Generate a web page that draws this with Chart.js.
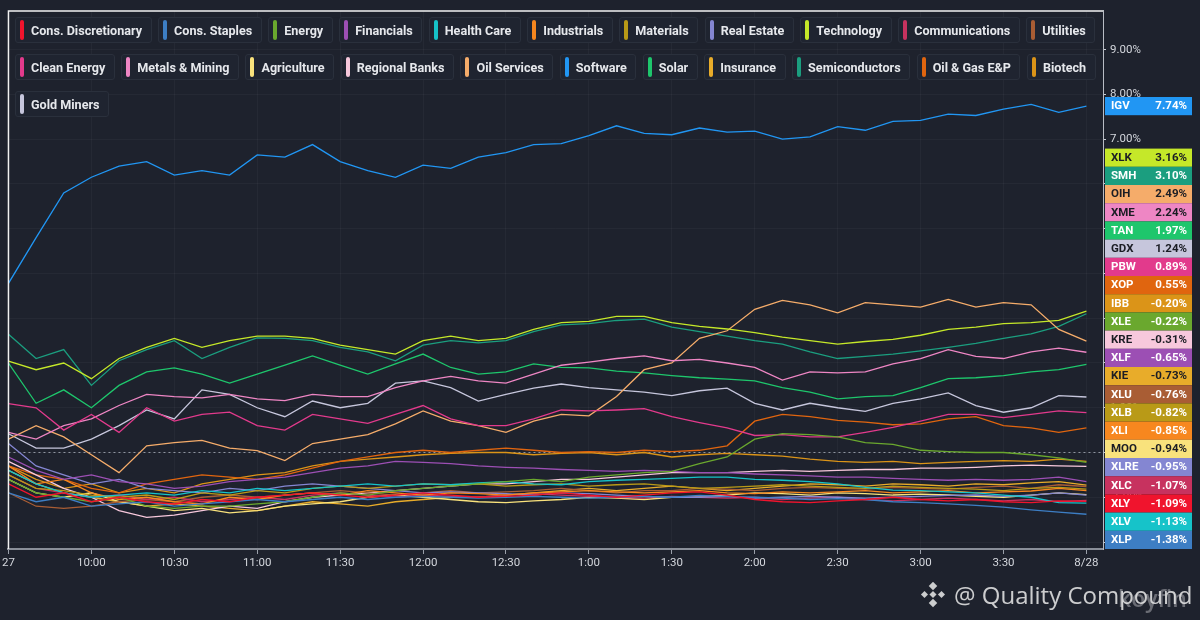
<!DOCTYPE html>
<html lang="en">
<head>
  <meta charset="UTF-8">
  <title>Sector ETF performance, intraday</title>
  <script src="https://cdn.jsdelivr.net/npm/chart.js"></script>
  <style>
    body {
      margin: 0;
      background-color: #1e222d;
      font-family: Roboto, "Noto Sans", sans-serif;
    }

    .chart-container {
      position: relative;
      width: 1200px;
      height: 620px;
    }

    /* legend chips at the top left */
    #legend {
      position: absolute;
      left: 15px;
      top: 17px;
      width: 1090px;
      display: flex;
      flex-wrap: wrap;
      column-gap: 6.5px;
      row-gap: 11px;
    }
    .item {
      display: flex;
      align-items: center;
      height: 24px;
      padding: 0 8.5px 0 4px;
      background: #1f2430;
      border: 1px solid #2a303c;
      border-radius: 3px;
      font-family: Roboto, sans-serif;
      font-weight: 700;
      font-size: 12.6px;
      color: #e6e8ec;
      white-space: nowrap;
    }
    .bar {
      width: 4px;
      height: 20px;
      border-radius: 2px;
      margin-right: 7px;
    }

    .watermark {
      position: absolute;
      left: 920px;
      top: 578px;
      display: flex;
      align-items: center;
      font-family: "Open Sans", sans-serif;
      font-size: 24px;
      color: rgba(235, 235, 235, 0.85);
    }
    .koyfin {
      position: absolute;
      left: 1118px;
      top: 582px;
      font-family: "Open Sans", sans-serif;
      font-size: 23px;
      font-weight: 600;
      color: rgba(200, 200, 205, 0.45);
    }
  </style>
</head>
<body>

<div class="chart-container">
  <canvas id="sectorChart"></canvas>
  <div id="legend"></div>
  <div class="koyfin">koyfin</div>
  <div class="watermark">
    <svg width="26" height="26" viewBox="0 0 26 26" style="margin-right:8px">
      <g fill="rgba(235,235,235,0.85)">
        <rect x="10" y="1" width="6" height="6" transform="rotate(45 13 4)"/>
        <rect x="2" y="10" width="5" height="5" transform="rotate(45 4.5 12.5)"/>
        <rect x="19" y="10" width="5" height="5" transform="rotate(45 21.5 12.5)"/>
        <rect x="10.5" y="10" width="5" height="5" transform="rotate(45 13 12.5)"/>
        <rect x="10" y="18" width="6" height="6" transform="rotate(45 13 21)"/>
      </g>
    </svg>
    <span>@ Quality Compound</span>
  </div>
</div>

<script>
  // minutes after 9:30, one reading every 10 minutes up to 4:00
  const minutes = [0, 10, 20, 30, 40, 50, 60, 70, 80, 90, 100, 110, 120, 130, 140, 150, 160, 170, 180, 190,
                   200, 210, 220, 230, 240, 250, 260, 270, 280, 290, 300, 310, 320, 330, 340, 350, 360, 370, 380, 390];

  const tickMinutes = [0, 30, 60, 90, 120, 150, 180, 210, 240, 270, 300, 330, 360, 390];
  const tickLabels = ['27', '10:00', '10:30', '11:00', '11:30', '12:00', '12:30', '1:00', '1:30', '2:00', '2:30', '3:00', '3:30', '8/28'];
  const yTickValues = [-2, -1, 0, 1, 2, 3, 4, 5, 6, 7, 8, 9];

  // legend order
  const tickers = ['XLY', 'XLP', 'XLE', 'XLF', 'XLV', 'XLI', 'XLB', 'XLRE', 'XLK', 'XLC', 'XLU',
                   'PBW', 'XME', 'MOO', 'KRE', 'OIH', 'IGV', 'TAN', 'KIE', 'SMH', 'XOP', 'IBB', 'GDX'];
  const names = ['Cons. Discretionary', 'Cons. Staples', 'Energy', 'Financials', 'Health Care', 'Industrials',
                 'Materials', 'Real Estate', 'Technology', 'Communications', 'Utilities',
                 'Clean Energy', 'Metals & Mining', 'Agriculture', 'Regional Banks', 'Oil Services', 'Software',
                 'Solar', 'Insurance', 'Semiconductors', 'Oil & Gas E&P', 'Biotech', 'Gold Miners'];
  const colors = ['#f0142d', '#3d7ec4', '#6aa82e', '#9c4fb4', '#16c3c9', '#f7871f', '#b99a17', '#8486d2', '#c5e829', '#c7325f', '#a95d34',
                  '#e23a8c', '#ee86c4', '#f9e27c', '#f7c8dc', '#f5ac6a', '#2196f3', '#1ec66c', '#e8ac2a', '#1b9e7f', '#e0650f', '#db9418', '#c6c6dc'];
  // label text is dark on the light colours
  const darkText = ['XLK', 'OIH', 'XME', 'GDX', 'KRE', 'KIE', 'MOO'];

  // % change readings
  const xly = [-0.7,-1.0,-0.9,-1.1,-1.0,-1.1,-1.15,-1.05,-1.1,-1.0, -0.95,-0.9,-0.95,-1.0,-0.95,-0.9,-0.95,-1.0,-0.98,-0.95,
               -0.9,-0.95,-1.0,-0.95,-0.9,-0.88,-0.95,-1.05,-1.1,-1.12, -1.08,-1.05,-1.0,-1.05,-1.08,-1.05,-1.1,-1.12,-1.08,-1.09];
  const xlp = [-0.9,-1.1,-1.0,-1.2,-1.15,-1.1,-1.2,-1.15,-1.1,-1.05, -1.1,-1.05,-1.0,-1.05,-1.0,-0.98,-1.0,-1.02,-1.0,-0.98,
               -1.0,-1.02,-1.0,-0.98,-1.0,-0.96,-0.98,-1.0,-1.02,-1.05, -1.03,-1.05,-1.1,-1.12,-1.15,-1.18,-1.22,-1.28,-1.33,-1.38];
  const xle = [-0.6,-0.9,-1.0,-1.1,-1.0,-1.2,-1.25,-1.2,-1.2,-1.15, -1.1,-1.0,-0.9,-0.95,-0.85,-0.8,-0.75,-0.7,-0.65,-0.6,
               -0.65,-0.55,-0.5,-0.45,-0.42,-0.25,-0.1,0.3,0.42,0.4, 0.35,0.22,0.18,0.05,0.02,0.0,0.0,-0.05,-0.12,-0.22];
  const xlf = [-0.1,-0.4,-0.6,-0.5,-0.65,-0.7,-0.8,-0.75,-0.65,-0.6, -0.55,-0.45,-0.35,-0.3,-0.2,-0.22,-0.25,-0.3,-0.33,-0.35,
               -0.38,-0.4,-0.42,-0.4,-0.42,-0.45,-0.45,-0.48,-0.5,-0.52, -0.55,-0.55,-0.58,-0.6,-0.62,-0.6,-0.62,-0.6,-0.55,-0.65];
  const xlv = [-0.4,-0.7,-0.9,-1.0,-0.95,-0.9,-0.95,-0.85,-0.9,-0.8, -0.85,-0.8,-0.75,-0.7,-0.75,-0.7,-0.72,-0.68,-0.65,-0.7,
               -0.72,-0.65,-0.62,-0.6,-0.58,-0.55,-0.55,-0.6,-0.62,-0.65, -0.7,-0.78,-0.84,-0.85,-0.88,-0.9,-0.95,-1.0,-1.12,-1.13];
  const xli = [-0.3,-0.7,-0.6,-0.9,-1.05,-1.0,-1.1,-1.15,-1.0,-1.05, -0.95,-0.9,-0.95,-0.85,-0.9,-0.95,-0.9,-0.92,-0.95,-0.9,
               -0.88,-0.85,-0.88,-0.9,-0.88,-0.85,-0.9,-0.92,-0.88,-0.9, -0.88,-0.85,-0.9,-0.88,-0.85,-0.9,-0.88,-0.86,-0.8,-0.85];
  const xlb = [-0.5,-0.8,-0.85,-0.95,-1.0,-0.95,-1.05,-0.9,-0.95,-0.85, -0.9,-0.8,-0.75,-0.8,-0.75,-0.7,-0.72,-0.7,-0.75,-0.72,
               -0.7,-0.75,-0.72,-0.7,-0.75,-0.8,-0.78,-0.75,-0.72,-0.75, -0.78,-0.8,-0.75,-0.78,-0.8,-0.82,-0.85,-0.8,-0.78,-0.82];
  const xlre = [0.2,-0.3,-0.5,-0.7,-0.6,-0.8,-0.85,-0.9,-0.8,-0.85, -0.75,-0.7,-0.75,-0.8,-0.85,-0.9,-0.88,-0.9,-0.92,-0.95,
                -0.9,-0.92,-0.95,-0.98,-1.0,-1.0,-0.98,-1.02,-1.0,-0.98, -1.0,-1.02,-1.0,-0.98,-0.96,-0.95,-0.98,-0.95,-0.9,-0.95];
  const xlk = [2.04,1.85,2.0,1.65,2.1,2.35,2.55,2.35,2.5,2.6, 2.6,2.55,2.4,2.3,2.2,2.5,2.6,2.5,2.55,2.75,
               2.9,2.93,3.04,3.04,2.9,2.82,2.76,2.68,2.58,2.5, 2.42,2.48,2.53,2.62,2.75,2.8,2.88,2.9,2.95,3.16];
  const xlc = [-0.5,-0.8,-0.9,-1.0,-0.95,-1.05,-1.0,-1.1,-1.05,-1.0, -1.05,-0.95,-0.9,-0.95,-1.0,-0.95,-0.98,-1.0,-0.95,-0.92,
               -0.95,-0.98,-1.0,-1.02,-0.98,-1.0,-1.02,-1.0,-1.05,-1.02, -1.0,-1.05,-1.08,-1.05,-1.02,-1.05,-1.08,-1.05,-1.1,-1.07];
  const xlu = [-0.9,-1.2,-1.25,-1.2,-1.1,-1.05,-1.1,-1.0,-0.95,-1.0, -0.95,-0.9,-0.85,-0.9,-0.95,-0.9,-0.85,-0.9,-0.88,-0.85,
               -0.8,-0.85,-0.9,-0.85,-0.85,-0.8,-0.82,-0.85,-0.8,-0.78, -0.8,-0.82,-0.78,-0.8,-0.82,-0.78,-0.75,-0.8,-0.72,-0.76];
  const pbw = [1.09,1.0,0.5,0.85,0.45,1.0,0.7,0.85,0.9,0.6, 0.5,0.85,0.75,0.65,0.85,1.05,0.75,0.6,0.6,0.75,
               0.95,0.93,0.95,0.98,0.8,0.67,0.55,0.38,0.4,0.35, 0.35,0.45,0.56,0.7,0.85,0.85,0.78,0.85,0.93,0.89];
  const xme = [0.45,0.3,0.6,0.75,1.05,1.3,1.25,1.22,1.3,1.2, 1.16,1.3,1.25,1.25,1.45,1.6,1.7,1.6,1.55,1.75,
               1.95,2.02,2.1,2.16,2.05,2.08,2.0,1.9,1.62,1.8, 1.78,1.8,1.98,2.1,2.3,2.15,2.1,2.25,2.33,2.24];
  const moo = [-0.6,-0.9,-1.0,-0.9,-1.1,-1.2,-1.3,-1.25,-1.35,-1.3, -1.2,-1.15,-1.1,-1.0,-0.95,-1.0,-1.05,-1.1,-1.12,-1.08,
               -1.05,-1.0,-1.02,-1.05,-1.0,-0.98,-0.95,-0.9,-0.92,-0.95, -0.9,-0.92,-0.95,-0.93,-0.95,-0.98,-1.0,-0.95,-0.9,-0.94];
  const kre = [-0.2,-0.5,-0.8,-1.0,-1.3,-1.45,-1.4,-1.3,-1.2,-1.25, -1.1,-1.0,-0.95,-0.9,-0.85,-0.8,-0.75,-0.7,-0.7,-0.65,
               -0.6,-0.6,-0.55,-0.5,-0.45,-0.45,-0.45,-0.42,-0.4,-0.42, -0.4,-0.38,-0.38,-0.35,-0.35,-0.33,-0.3,-0.28,-0.3,-0.31];
  const oih = [0.3,0.6,0.35,-0.05,-0.45,0.15,0.22,0.27,0.1,0.04, -0.18,0.2,0.3,0.4,0.64,0.93,0.7,0.6,0.45,0.7,
               0.85,0.82,1.25,1.85,2.0,2.55,2.72,3.2,3.4,3.3, 3.12,3.35,3.3,3.25,3.42,3.25,3.35,3.3,2.75,2.49];
  const igv = [3.78,4.8,5.8,6.15,6.4,6.5,6.2,6.3,6.2,6.65, 6.6,6.88,6.5,6.3,6.15,6.42,6.35,6.6,6.7,6.88,
               6.9,7.08,7.3,7.13,7.1,7.25,7.16,7.18,7.0,7.05, 7.28,7.2,7.4,7.42,7.56,7.53,7.67,7.78,7.6,7.74];
  const tan = [2.0,1.1,1.4,1.0,1.5,1.8,1.89,1.75,1.55,1.75, 1.95,2.16,1.95,1.75,1.98,2.2,1.9,1.75,1.8,1.98,
               1.9,1.89,1.82,1.78,1.72,1.67,1.64,1.6,1.45,1.35, 1.2,1.25,1.27,1.45,1.65,1.67,1.72,1.8,1.85,1.97];
  const kie = [-0.4,-0.7,-0.9,-1.0,-1.1,-1.2,-1.15,-1.2,-1.25,-1.3, -1.2,-1.1,-1.15,-1.2,-1.1,-1.05,-1.0,-1.0,-0.95,-0.9,
               -0.85,-0.8,-0.85,-0.8,-0.75,-0.8,-0.85,-0.8,-0.75,-0.7, -0.72,-0.75,-0.7,-0.72,-0.75,-0.7,-0.72,-0.68,-0.65,-0.73];
  const smh = [2.64,2.1,2.3,1.5,2.05,2.3,2.5,2.1,2.35,2.56, 2.55,2.5,2.35,2.25,2.05,2.4,2.5,2.45,2.5,2.7,
               2.85,2.88,2.95,2.98,2.8,2.7,2.6,2.5,2.42,2.25, 2.1,2.15,2.2,2.27,2.35,2.44,2.55,2.65,2.82,3.10];
  const xop = [-0.3,-0.5,-0.6,-0.8,-0.9,-0.7,-0.6,-0.5,-0.55,-0.6, -0.5,-0.35,-0.2,-0.1,0.0,0.05,0.0,0.05,0.1,0.05,
               0.0,0.02,0.0,0.05,0.02,0.05,0.15,0.7,0.85,0.8, 0.72,0.68,0.62,0.64,0.75,0.8,0.6,0.55,0.45,0.55];
  const ibb = [-0.3,-0.6,-0.8,-0.7,-0.9,-0.8,-0.9,-0.7,-0.6,-0.5, -0.45,-0.3,-0.2,-0.15,-0.1,-0.05,-0.02,0.0,0.0,-0.05,
               -0.02,0.0,-0.05,0.0,-0.1,-0.05,-0.02,-0.05,-0.08,-0.15, -0.2,-0.22,-0.2,-0.25,-0.22,-0.2,-0.18,-0.2,-0.15,-0.2];
  const gdx = [0.42,0.1,0.1,0.3,0.6,0.95,0.75,1.4,1.3,1.0, 0.8,1.15,1.0,1.1,1.55,1.6,1.45,1.15,1.3,1.44,
               1.53,1.45,1.4,1.35,1.27,1.38,1.44,1.1,0.95,1.1, 1.0,0.92,1.1,1.2,1.33,1.05,0.9,1.0,1.27,1.24];

  const seriesValues = [xly, xlp, xle, xlf, xlv, xli, xlb, xlre, xlk, xlc, xlu,
                        pbw, xme, moo, kre, oih, igv, tan, kie, smh, xop, ibb, gdx];

  // legend chips
  const legendEl = document.getElementById('legend');
  names.forEach((name, i) => {
    const item = document.createElement('div');
    item.className = 'item';
    item.innerHTML = '<span class="bar" style="background:' + colors[i] + '"></span>' + name;
    legendEl.appendChild(item);
  });

  const datasets = seriesValues.map((values, i) => ({
    label: tickers[i],
    data: values.map((v, j) => ({ x: minutes[j], y: v })),
    borderColor: colors[i],
    borderWidth: 1.3,
    pointRadius: 0,
    tension: 0
  }));

  // frame lines, dotted zero line and the stacked value tags on the right
  const overlayPlugin = {
    id: 'overlay',
    beforeDatasetsDraw(chart) {
      const { ctx, chartArea, scales } = chart;
      const y0 = scales.y.getPixelForValue(0);
      ctx.save();
      ctx.strokeStyle = '#8f95a0';
      ctx.lineWidth = 1.2;
      ctx.setLineDash([2, 3]);
      ctx.beginPath();
      ctx.moveTo(chartArea.left, y0);
      ctx.lineTo(chartArea.right, y0);
      ctx.stroke();
      ctx.restore();
    },
    afterDraw(chart) {
      const { ctx, chartArea, scales } = chart;
      ctx.save();
      ctx.strokeStyle = '#f2f2f2';
      ctx.lineWidth = 1.5;
      ctx.beginPath();
      ctx.moveTo(chartArea.left, chartArea.bottom);
      ctx.lineTo(chartArea.left, chartArea.top);
      ctx.lineTo(chartArea.right, chartArea.top);
      ctx.stroke();

      // value tags, pushed apart so they do not overlap
      const h = 18.2;
      const tags = seriesValues.map((values, i) => {
        const last = values[values.length - 1];
        return { i, value: last, y: scales.y.getPixelForValue(last) };
      }).sort((a, b) => b.value - a.value);
      for (let k = 1; k < tags.length; k++) {
        tags[k].y = Math.max(tags[k].y, tags[k - 1].y + h);
      }
      let limit = chartArea.bottom - h / 2;
      for (let k = tags.length - 1; k >= 0; k--) {
        tags[k].y = Math.min(tags[k].y, limit);
        limit = tags[k].y - h;
      }
      const x = chartArea.right + 2;
      const w = 87;
      ctx.font = '700 11.5px Roboto, sans-serif';
      ctx.textBaseline = 'middle';
      tags.forEach(t => {
        const tk = tickers[t.i];
        ctx.fillStyle = colors[t.i];
        ctx.fillRect(x, t.y - h / 2, w, h);
        ctx.fillStyle = darkText.includes(tk) ? '#1b1d24' : '#ffffff';
        ctx.textAlign = 'left';
        ctx.fillText(tk, x + 6, t.y + 0.5);
        ctx.textAlign = 'right';
        ctx.fillText(t.value.toFixed(2) + '%', x + w - 5, t.y + 0.5);
      });
      ctx.restore();
    }
  };

  const ctx = document.getElementById('sectorChart').getContext('2d');
  new Chart(ctx, {
    type: 'line',
    data: { datasets: datasets },
    options: {
      responsive: true,
      maintainAspectRatio: false,
      animation: false,
      layout: { padding: { left: 8, top: 8, right: 0, bottom: 0 } },
      scales: {
        x: {
          type: 'linear',
          min: 0,
          max: 396,
          afterBuildTicks: scale => { scale.ticks = tickMinutes.map(v => ({ value: v })); },
          afterFit: scale => { scale.height = 71; },
          ticks: {
            autoSkip: false,
            maxRotation: 0,
            padding: 2,
            color: '#d4d7dd',
            font: { family: 'Roboto, sans-serif', size: 11.5 },
            callback: value => tickLabels[tickMinutes.indexOf(value)]
          },
          grid: {
            color: 'rgba(255,255,255,0.035)',
            tickColor: '#9aa0aa',
            tickLength: 5
          },
          border: { color: '#8a8f99', width: 2 }
        },
        y: {
          position: 'right',
          min: -2.156,
          max: 9.867,
          afterBuildTicks: scale => { scale.ticks = yTickValues.map(v => ({ value: v })); },
          afterFit: scale => { scale.width = 97; },
          ticks: {
            padding: 4,
            color: '#d4d7dd',
            font: { family: 'Roboto, sans-serif', size: 11.5 },
            callback: value => value.toFixed(2) + '%'
          },
          grid: {
            color: 'rgba(255,255,255,0.035)',
            tickColor: '#c8ccd4',
            tickLength: 3
          },
          border: { color: '#b8bcc4', width: 1 }
        }
      },
      plugins: {
        legend: { display: false },
        tooltip: { enabled: false }
      }
    },
    plugins: [overlayPlugin]
  });
</script>

</body>
</html>
